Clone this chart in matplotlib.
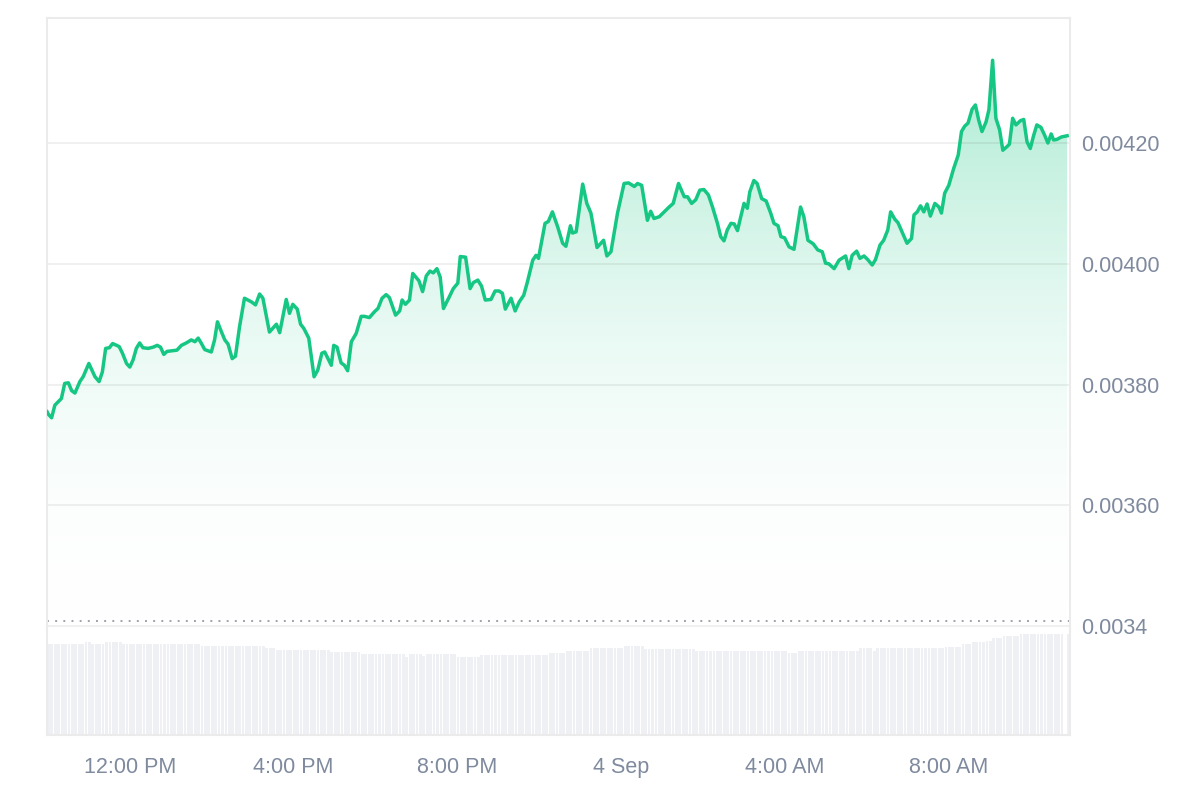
import numpy as np
import matplotlib
matplotlib.use('Agg')
import matplotlib.pyplot as plt
from matplotlib.colors import LinearSegmentedColormap, to_rgb
from matplotlib.patches import Polygon

# hours counted from 3 Sep 00:00
hours = [
    9.98, 10.01, 10.09, 10.17, 10.33, 10.41, 10.50, 10.58, 10.66, 10.78,
    10.86, 11.00, 11.15, 11.25, 11.33, 11.41, 11.50, 11.58, 11.74, 11.82,
    11.92, 12.00, 12.08, 12.16, 12.24, 12.32, 12.45, 12.57, 12.67, 12.75,
    12.83, 12.91, 13.04, 13.15, 13.26, 13.38, 13.50, 13.59, 13.67, 13.75,
    13.83, 13.99, 14.07, 14.14, 14.24, 14.32, 14.40, 14.50, 14.58, 14.68,
    14.80, 14.97, 15.07, 15.17, 15.25, 15.41, 15.58, 15.66, 15.82, 15.90,
    15.98, 16.09, 16.17, 16.25, 16.37, 16.50, 16.59, 16.69, 16.76, 16.92,
    16.98, 17.06, 17.16, 17.24, 17.32, 17.41, 17.53, 17.65, 17.73, 17.85,
    17.98, 18.06, 18.16, 18.26, 18.34, 18.49, 18.59, 18.65, 18.73, 18.83,
    18.91, 19.06, 19.15, 19.24, 19.33, 19.41, 19.50, 19.58, 19.66, 19.80,
    19.90, 20.01, 20.07, 20.20, 20.31, 20.39, 20.50, 20.59, 20.68, 20.82,
    20.92, 21.02, 21.10, 21.17, 21.31, 21.41, 21.51, 21.62, 21.71, 21.84,
    21.92, 21.98, 22.14, 22.22, 22.32, 22.45, 22.57, 22.65, 22.76, 22.81,
    22.90, 23.06, 23.16, 23.26, 23.41, 23.57, 23.65, 23.75, 23.91, 24.07,
    24.18, 24.32, 24.40, 24.50, 24.64, 24.72, 24.80, 24.93, 25.05, 25.17,
    25.27, 25.40, 25.54, 25.62, 25.72, 25.82, 25.92, 26.02, 26.13, 26.23,
    26.35, 26.43, 26.51, 26.59, 26.68, 26.76, 26.84, 26.92, 27.00, 27.08,
    27.14, 27.24, 27.32, 27.43, 27.54, 27.65, 27.73, 27.83, 27.90, 27.99,
    28.10, 28.22, 28.38, 28.46, 28.56, 28.69, 28.80, 28.91, 28.99, 29.07,
    29.20, 29.32, 29.48, 29.56, 29.64, 29.75, 29.83, 29.93, 30.02, 30.13,
    30.21, 30.32, 30.41, 30.51, 30.58, 30.68, 30.76, 30.89, 30.98, 31.09,
    31.15, 31.23, 31.31, 31.39, 31.47, 31.55, 31.66, 31.76, 31.82, 31.90,
    32.00, 32.12, 32.23, 32.31, 32.39, 32.47, 32.57, 32.65, 32.73, 32.81,
    32.91, 32.98, 33.07, 33.15, 33.24, 33.32, 33.42, 33.48, 33.56, 33.64,
    33.75, 33.83, 33.91, 33.99, 34.07, 34.15, 34.25, 34.34, 34.42, 34.50,
    34.56, 34.64, 34.75, 34.89,
]

prices = [
    0.003755, 0.003751, 0.003745, 0.003766, 0.003777, 0.003802, 0.003803, 0.003790, 0.003786, 0.003805,
    0.003813, 0.003835, 0.003813, 0.003805, 0.003821, 0.003860, 0.003861, 0.003868, 0.003863, 0.003852,
    0.003835, 0.003829, 0.003841, 0.003860, 0.003869, 0.003861, 0.003860, 0.003862, 0.003865, 0.003862,
    0.003850, 0.003855, 0.003856, 0.003857, 0.003865, 0.003869, 0.003874, 0.003871, 0.003877, 0.003868,
    0.003858, 0.003854, 0.003874, 0.003904, 0.003887, 0.003874, 0.003867, 0.003843, 0.003847, 0.003896,
    0.003943, 0.003937, 0.003932, 0.003950, 0.003943, 0.003887, 0.003900, 0.003886, 0.003941, 0.003918,
    0.003933, 0.003925, 0.003900, 0.003893, 0.003877, 0.003813, 0.003824, 0.003852, 0.003854, 0.003832,
    0.003865, 0.003862, 0.003836, 0.003832, 0.003823, 0.003871, 0.003885, 0.003913, 0.003913, 0.003911,
    0.003921, 0.003926, 0.003943, 0.003949, 0.003944, 0.003915, 0.003922, 0.003940, 0.003933, 0.003940,
    0.003984, 0.003972, 0.003954, 0.003980, 0.003988, 0.003985, 0.003992, 0.003978, 0.003926, 0.003945,
    0.003959, 0.003968, 0.004012, 0.004011, 0.003959, 0.003969, 0.003973, 0.003963, 0.003940, 0.003941,
    0.003955, 0.003955, 0.003951, 0.003925, 0.003943, 0.003922, 0.003937, 0.003948, 0.003970, 0.004006,
    0.004014, 0.004009, 0.004067, 0.004070, 0.004086, 0.004061, 0.004034, 0.004029, 0.004063, 0.004051,
    0.004053, 0.004132, 0.004100, 0.004084, 0.004027, 0.004039, 0.004013, 0.004020, 0.004084, 0.004133,
    0.004134, 0.004128, 0.004133, 0.004130, 0.004072, 0.004087, 0.004075, 0.004078, 0.004086, 0.004094,
    0.004100, 0.004133, 0.004111, 0.004111, 0.004100, 0.004106, 0.004122, 0.004123, 0.004114, 0.004094,
    0.004067, 0.004045, 0.004038, 0.004056, 0.004067, 0.004066, 0.004055, 0.004078, 0.004100, 0.004092,
    0.004119, 0.004138, 0.004133, 0.004108, 0.004104, 0.004084, 0.004067, 0.004063, 0.004045, 0.004043,
    0.004028, 0.004024, 0.004094, 0.004078, 0.004039, 0.004033, 0.004023, 0.004020, 0.004001, 0.004000,
    0.003992, 0.004006, 0.004013, 0.003992, 0.004014, 0.004021, 0.004009, 0.004013, 0.004007, 0.003998,
    0.004007, 0.004031, 0.004039, 0.004056, 0.004086, 0.004074, 0.004068, 0.004048, 0.004034, 0.004042,
    0.004081, 0.004086, 0.004096, 0.004086, 0.004099, 0.004079, 0.004100, 0.004094, 0.004084, 0.004117,
    0.004130, 0.004158, 0.004180, 0.004219, 0.004228, 0.004233, 0.004256, 0.004263, 0.004238, 0.004219,
    0.004235, 0.004255, 0.004337, 0.004241, 0.004222, 0.004188, 0.004194, 0.004198, 0.004241, 0.004230,
    0.004237, 0.004239, 0.004202, 0.004191, 0.004212, 0.004230, 0.004226, 0.004213, 0.004200, 0.004215,
    0.004205, 0.004206, 0.004210, 0.004212,
]

# 5-minute volume bars (relative units), read as steps off the picture
volume = ([9.10]*11 + [9.27]*2 + [9.10]*4 + [9.27]*5 + [9.10]*23 + [8.90]*19
          + [8.67]*3 + [8.50]*16 + [8.30]*9 + [8.10]*13 + [7.83]*1 + [8.10]*4
          + [7.90]*1 + [8.10]*9 + [7.80]*7 + [8.00]*20 + [8.20]*5 + [8.40]*7
          + [8.70]*10 + [8.90]*6 + [8.65]*15 + [8.40]*27 + [8.20]*3 + [8.40]*18
          + [8.67]*4 + [8.43]*1 + [8.67]*20 + [8.83]*5 + [9.07]*3 + [9.27]*4
          + [9.43]*2 + [9.67]*3 + [9.90]*5 + [10.10]*13 + [0.0]*1 + [10.10]*1)
vol_start = 9.98

ref_price = 0.003408
ytick_vals = [0.0034, 0.0036, 0.0038, 0.0040, 0.0042]
ytick_labels = ['0.0034', '0.00360', '0.00380', '0.00400', '0.00420']
xtick_vals = [12, 16, 20, 24, 28, 32]
xtick_labels = ['12:00 PM', '4:00 PM', '8:00 PM', '4 Sep', '4:00 AM', '8:00 AM']

plt.rcParams['font.family'] = ['Liberation Sans', 'DejaVu Sans']

GREEN = '#16c784'
TEXT = '#7f8a9e'
FRAME = '#ebebeb'
XMIN, XMAX = 9.973, 34.955
PMIN, PMAX = 0.003397, 0.004407

fig = plt.figure(figsize=(12, 8), dpi=100)
ax = fig.add_axes([0.039, 0.215, 0.8525, 0.7625])
axv = fig.add_axes([0.039, 0.08125, 0.8525, 0.13375])

# gradient area under the price line
fade = LinearSegmentedColormap.from_list('fade', [(1, 1, 1, 0), (*to_rgb(GREEN), 0.42)])
grad = ax.imshow(np.linspace(0, 1, 256).reshape(-1, 1), cmap=fade, origin='lower',
                 aspect='auto', extent=[XMIN, XMAX, 0.0034, PMAX], zorder=0)
verts = np.column_stack([np.r_[hours[0], hours, hours[-1]],
                         np.r_[0.0034, prices, 0.0034]])
clip = Polygon(verts, closed=True, transform=ax.transData, facecolor='none', edgecolor='none')
ax.add_patch(clip)
grad.set_clip_path(clip)

ax.plot(hours, prices, color=GREEN, lw=2.5, solid_joinstyle='round', zorder=3)
ax.axhline(ref_price, color='#9ea3ab', lw=1.4, ls=(0, (1, 3.2)), zorder=2)

ax.set_xlim(XMIN, XMAX)
ax.set_ylim(PMIN, PMAX)
ax.set_axisbelow('line')
ax.set_yticks(ytick_vals)
ax.set_yticklabels(ytick_labels)
ax.yaxis.tick_right()
ax.tick_params(axis='y', length=0, pad=8.5, labelsize=15.5, labelcolor=TEXT)
ax.set_xticks([])
ax.grid(axis='y', color='black', alpha=0.06, lw=1.4)
for side in ['left', 'right', 'top']:
    ax.spines[side].set_color(FRAME)
    ax.spines[side].set_linewidth(1.5)
ax.spines['bottom'].set_visible(False)

# volume panel
bar_times = vol_start + np.arange(len(volume)) / 12
axv.bar(bar_times, volume, width=0.068, align='edge', color='#eef0f3', lw=0)
axv.set_xlim(XMIN, XMAX)
axv.set_ylim(0, 10.7)
axv.set_yticks([])
axv.set_xticks(xtick_vals)
axv.set_xticklabels(xtick_labels)
axv.tick_params(axis='x', length=0, pad=16, labelsize=15.5, labelcolor=TEXT)
for side in ['left', 'right', 'bottom']:
    axv.spines[side].set_color(FRAME)
    axv.spines[side].set_linewidth(1.5)
axv.spines['top'].set_visible(False)

fig.savefig('out.png', dpi=100, facecolor='white')
